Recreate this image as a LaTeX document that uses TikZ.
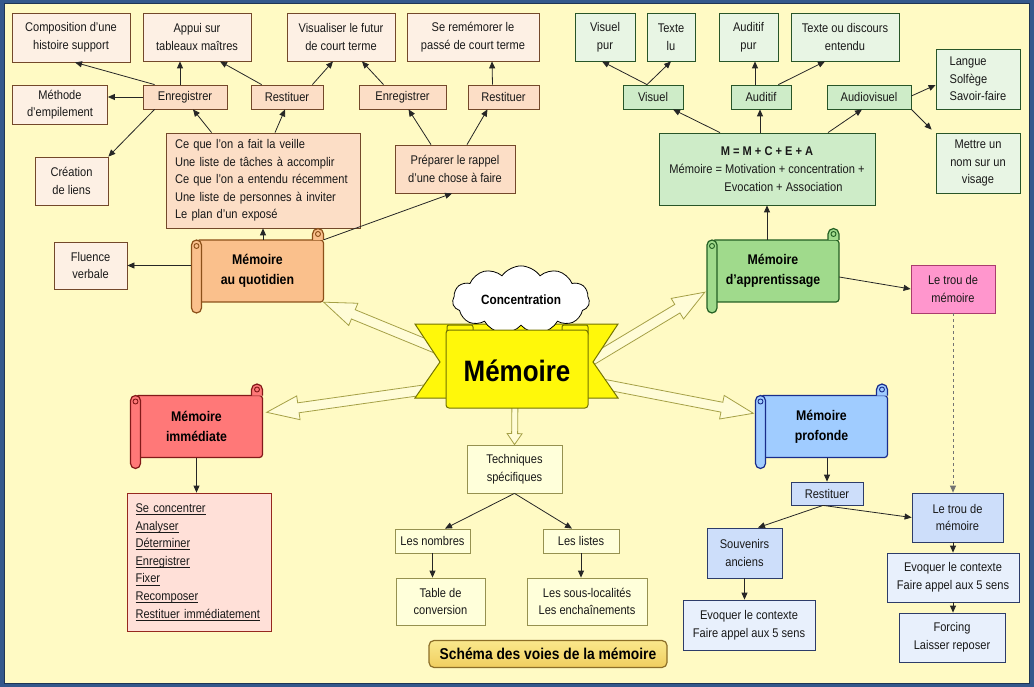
\documentclass[tikz,border=0pt]{standalone}
\usepackage{fontspec}
\setmainfont{Liberation Sans}[FakeStretch=0.88]
\usetikzlibrary{arrows.meta,calc,shapes.symbols}
\definecolor{paper}{RGB}{255,250,196}
\definecolor{frameblue}{RGB}{52,88,140}
\definecolor{peachpale}{RGB}{253,240,228}
\definecolor{peachmid}{RGB}{252,222,198}
\definecolor{peachline}{RGB}{115,72,42}
\definecolor{quotfill}{RGB}{250,192,140}
\definecolor{quotline}{RGB}{140,80,25}
\definecolor{greenpale}{RGB}{232,245,228}
\definecolor{greenmid}{RGB}{206,236,200}
\definecolor{greenline}{RGB}{40,85,40}
\definecolor{apprfill}{RGB}{160,218,140}
\definecolor{apprline}{RGB}{35,95,35}
\definecolor{trourose}{RGB}{255,150,205}
\definecolor{trouline}{RGB}{170,60,110}
\definecolor{bluepale}{RGB}{232,240,252}
\definecolor{bluemid}{RGB}{205,222,250}
\definecolor{blueline}{RGB}{45,60,105}
\definecolor{proffill}{RGB}{160,204,255}
\definecolor{profline}{RGB}{25,45,140}
\definecolor{immfill}{RGB}{255,120,120}
\definecolor{immline}{RGB}{130,25,25}
\definecolor{immlist}{RGB}{255,224,216}
\definecolor{immlistline}{RGB}{150,40,30}
\definecolor{techfill}{RGB}{255,255,218}
\definecolor{techline}{RGB}{150,145,80}
\definecolor{ribbon}{RGB}{255,248,10}
\definecolor{ribbonline}{RGB}{115,115,0}
\definecolor{hollowfill}{RGB}{255,252,215}
\definecolor{hollowline}{RGB}{165,160,70}
\definecolor{titletop}{RGB}{250,232,140}
\definecolor{titlebot}{RGB}{240,205,95}
\definecolor{titleline}{RGB}{140,110,40}
\newcommand\lblfont{\fontsize{12.6}{17.6}\selectfont}
\newcommand\scrollfont{\bfseries\fontsize{14}{20}\selectfont}
\newcommand\underl[1]{\leavevmode\setbox0\hbox{#1}\rlap{\rule[-2.3pt]{\wd0}{0.6pt}}\box0}
% scroll: name, x, y, fill, line, text
\newcommand\scrollnode[6]{%
  \begin{scope}[shift={(#2,#3)}, line width=1.2pt]
    \filldraw[fill=#4, draw=#5, rounded corners=3pt] (-61,-31) rectangle (66,31);
    \filldraw[fill=#4, draw=#5] (55,-31) -- (55,-37) arc[start angle=180, end angle=0, radius=5.5pt] -- (66,-31);
    \draw[draw=#5, line width=0.9pt] (60.5,-37) circle[radius=2.5pt];
    \filldraw[fill=#4, draw=#5, rounded corners=5pt] (-66,-31) rectangle (-56,42);
    \draw[draw=#5, line width=0.9pt] (-61,-25) circle[radius=2.5pt];
  \end{scope}
  \node[scrolltext, minimum width=132, minimum height=62] (#1) at (#2,#3) {#6};}
% big open arrow: from, to, shaft half width, head half width, head length
\newcommand\hollowarrow[5]{%
  \draw[hollow] let \p1=($(#2)-(#1)$), \n1={atan2(\y1,\x1)}, \n2={veclen(\x1,\y1)-#5} in
    ($(#1)+({\n1+90}:#3pt)$) -- ($(#1)+({\n1}:{\n2*1pt})+({\n1+90}:#3pt)$)
    -- ($(#1)+({\n1}:{\n2*1pt})+({\n1+90}:#4pt)$) -- (#2)
    -- ($(#1)+({\n1}:{\n2*1pt})+({\n1-90}:#4pt)$) -- ($(#1)+({\n1}:{\n2*1pt})+({\n1-90}:#3pt)$)
    -- ($(#1)+({\n1-90}:#3pt)$) -- cycle;}
\tikzset{
  box/.style={draw, rectangle, align=center, inner sep=0pt, line width=0.8pt, font=\lblfont, text=black!90},
  peachbox/.style={box, fill=peachpale, draw=peachline},
  peachkey/.style={box, fill=peachmid, draw=peachline},
  greenbox/.style={box, fill=greenpale, draw=greenline},
  greenkey/.style={box, fill=greenmid, draw=greenline},
  bluebox/.style={box, fill=bluepale, draw=blueline},
  bluekey/.style={box, fill=bluemid, draw=blueline},
  techbox/.style={box, fill=techfill, draw=techline},
  scrolltext/.style={inner sep=0pt, align=center, font=\scrollfont},
  conn/.style={draw=black!85, line width=0.8pt, -{Triangle[length=7pt,width=6pt]}},
  hollow/.style={fill=hollowfill, draw=hollowline, line width=0.8pt, line join=miter},
  ribbonpart/.style={fill=ribbon, draw=ribbonline, line width=1pt}
}
\begin{document}
\begin{tikzpicture}[x=1pt, y=-1pt]
  \useasboundingbox (0,0) rectangle (1034,687);
  \fill[frameblue] (0,0) rectangle (1034,687);
  \fill[paper] (4,3) rectangle (1029,683);
  \draw[frameblue!60!black, line width=0.6pt] (4,3) rectangle (1029,683);

  % memoire au quotidien
  \node[peachbox, minimum width=118, minimum height=49] (comp) at (71,37.5) {Composition d’une\\histoire support};
  \node[peachbox, minimum width=108, minimum height=48] (appui) at (197,37) {Appui sur\\tableaux maîtres};
  \node[peachbox, minimum width=108, minimum height=48] (futur) at (341,37) {Visualiser le futur\\de court terme};
  \node[peachbox, minimum width=132, minimum height=48] (passe) at (473,37) {Se remémorer le\\passé de court terme};
  \node[peachbox, minimum width=95, minimum height=39] (empil) at (60,104.5) {Méthode\\d’empilement};
  \node[peachkey, minimum width=84, minimum height=24] (enr1) at (185,97) {Enregistrer};
  \node[peachkey, minimum width=72, minimum height=24] (rest1) at (287,97) {Restituer};
  \node[peachkey, minimum width=87, minimum height=24] (enr2) at (402.5,97) {Enregistrer};
  \node[peachkey, minimum width=71, minimum height=24] (rest2) at (503.5,97) {Restituer};
  \node[peachbox, minimum width=73, minimum height=48] (liens) at (71.5,181) {Création\\de liens};
  \node[peachkey, align=left, text width=176, inner xsep=9, minimum height=95] (veille) at (263,180.5)
    {Ce que l’on a fait la veille\\Une liste de tâches à accomplir\\Ce que l’on a entendu récemment\\Une liste de personnes à inviter\\Le plan d’un exposé};
  \node[peachkey, minimum width=120, minimum height=48] (rappel) at (455,169) {Préparer le rappel\\d’une chose à faire};
  \node[peachbox, minimum width=73, minimum height=47] (fluence) at (90.5,265.5) {Fluence\\verbale};
  \scrollnode{quot}{257.5}{271}{quotfill}{quotline}{Mémoire\\au quotidien}

  \draw[conn] ($(enr1.north west)+(12,0)$) -- ($(comp.south)+(4,0)$);
  \draw[conn] ($(enr1.north)+(-5,0)$) -- ($(appui.south)+(-17,0)$);
  \draw[conn] ($(rest1.north west)+(11,0)$) -- ($(appui.south)+(23,0)$);
  \draw[conn] ($(rest1.north east)+(-11,0)$) -- ($(futur.south)+(-8,0)$);
  \draw[conn] (enr1.west) -- (enr1.west -| empil.east);
  \draw[conn] ($(enr1.south west)+(12,0)$) -- (liens.north east);
  \draw[conn] ($(veille.north west)+(46,0)$) -- ($(enr1.south)+(8,0)$);
  \draw[conn] ($(veille.north)+(12,0)$) -- ($(rest1.south)+(-2,0)$);
  \draw[conn] ($(enr2.north)+(-19,0)$) -- ($(futur.south)+(21,0)$);
  \draw[conn] ($(rest2.north)+(-11,0)$) -- ($(passe.south)+(19,0)$);
  \draw[conn] ($(rappel.north)+(-24,0)$) -- ($(enr2.south)+(6,0)$);
  \draw[conn] ($(rappel.north)+(12,0)$) -- ($(rest2.south)+(-16,0)$);
  \draw[conn] (quot.north east) -- ($(rappel.south)+(-3,0)$);
  \draw[conn] (quot.north -| veille.south) -- (veille.south);
  \draw[conn] (quot.west |- fluence.east) -- (fluence.east);

  % memoire d'apprentissage
  \node[greenbox, minimum width=60, minimum height=48] (vpur) at (605,37) {Visuel\\pur};
  \node[greenbox, minimum width=48, minimum height=48] (tlu) at (671,37) {Texte\\lu};
  \node[greenbox, minimum width=59, minimum height=48] (apur) at (748.5,37) {Auditif\\pur};
  \node[greenbox, minimum width=108, minimum height=48] (tdisc) at (845,37) {Texte ou discours\\entendu};
  \node[greenkey, minimum width=60, minimum height=24] (visuel) at (653,97) {Visuel};
  \node[greenkey, minimum width=60, minimum height=24] (auditif) at (761,97) {Auditif};
  \node[greenkey, minimum width=84, minimum height=24] (audiov) at (869,97) {Audiovisuel};
  \node[greenbox, align=left, minimum width=84, minimum height=60] (langue) at (978,79) {Langue\\Solfège\\Savoir-faire};
  \node[greenbox, minimum width=84, minimum height=60] (visage) at (978,163) {Mettre un\\nom sur un\\visage};
  \node[greenkey, minimum width=216, minimum height=72] (mcea) at (767,169)
    {\textbf{M = M + C + E + A}\\[1pt]Mémoire = Motivation + concentration +\\\hspace*{33pt}Evocation + Association};
  \scrollnode{appr}{773}{271}{apprfill}{apprline}{Mémoire\\d’apprentissage}
  \node[box, fill=trourose, draw=trouline, minimum width=84, minimum height=48] (trou1) at (953,289) {Le trou de\\mémoire};

  \draw[conn] ($(visuel.north)+(-6,0)$) -- ($(vpur.south)+(-3,0)$);
  \draw[conn] ($(visuel.north)+(-6,0)$) -- (tlu.south);
  \draw[conn] ($(auditif.north)+(-6,0)$) -- ($(apur.south)+(6.5,0)$);
  \draw[conn] ($(auditif.north east)+(-13,0)$) -- ($(tdisc.south)+(-20,0)$);
  \draw[conn] ($(audiov.east)+(0,-1)$) -- ($(langue.west)+(0,6)$);
  \draw[conn] (audiov.south east) -- ($(visage.north west)+(-4,-3)$);
  \draw[conn] ($(mcea.north)+(-47,0)$) -- ($(visuel.south)+(20,0)$);
  \draw[conn] ($(mcea.north)+(-7,0)$) -- ($(auditif.south)+(-1,0)$);
  \draw[conn] ($(mcea.north)+(61,0)$) -- ($(audiov.south)+(-7,0)$);
  \draw[conn] (appr.north -| mcea.south) -- (mcea.south);
  \draw[conn] ($(appr.east)+(0,6)$) -- (trou1.west);

  % memoire profonde
  \scrollnode{prof}{821.5}{426.5}{proffill}{profline}{Mémoire\\profonde}
  \node[bluekey, minimum width=72, minimum height=23] (rest3) at (827,493.5) {Restituer};
  \node[bluekey, minimum width=91, minimum height=49] (trou2) at (957.5,517.5) {Le trou de\\mémoire};
  \node[bluekey, minimum width=75, minimum height=50] (souv) at (744.5,553) {Souvenirs\\anciens};
  \node[bluebox, minimum width=132, minimum height=50] (evoq1) at (749,625) {Evoquer le contexte\\Faire appel aux 5 sens};
  \node[bluebox, minimum width=132, minimum height=49] (evoq2) at (953,577.5) {Evoquer le contexte\\Faire appel aux 5 sens};
  \node[bluebox, minimum width=106, minimum height=49] (forcing) at (952,637.5) {Forcing\\Laisser reposer};

  \draw[conn] (prof.south -| rest3.north) -- (rest3.north);
  \draw[conn] ($(rest3.south)+(-4,0)$) -- ($(souv.north)+(13.5,0)$);
  \draw[conn] ($(rest3.south)+(-4,0)$) -- (trou2.west);
  \draw[conn] (souv.south) -- (souv.south |- evoq1.north);
  \draw[conn] (trou2.south -| evoq2.north) -- (evoq2.north);
  \draw[conn] (evoq2.south) -- (evoq2.south |- forcing.north);
  \draw[conn, dashed, draw=black!55] (trou1.south) -- (trou1.south |- trou2.north);

  % memoire immediate
  \scrollnode{imm}{196.5}{426.5}{immfill}{immline}{Mémoire\\immédiate}
  \node[box, fill=immlist, draw=immlistline, align=left, text width=127, inner xsep=8.5, minimum height=138] (etapes) at (199,562)
    {\underl{Se concentrer}\\\underl{Analyser}\\\underl{Déterminer}\\\underl{Enregistrer}\\\underl{Fixer}\\\underl{Recomposer}\\\underl{Restituer immédiatement}};
  \draw[conn] (imm.south) -- (imm.south |- etapes.north);

  % techniques
  \node[techbox, minimum width=95, minimum height=48] (tech) at (514.5,469) {Techniques\\spécifiques};
  \node[techbox, minimum width=75, minimum height=24] (nombres) at (432.5,541) {Les nombres};
  \node[techbox, minimum width=76, minimum height=24] (listes) at (581,541) {Les listes};
  \node[techbox, minimum width=89, minimum height=47] (conv) at (440.5,601.5) {Table de\\conversion};
  \node[techbox, minimum width=120, minimum height=47] (sousloc) at (587,601.5) {Les sous-localités\\Les enchaînements};
  \draw[conn] (tech.south) -- ($(nombres.north)+(12.5,0)$);
  \draw[conn] (tech.south) -- ($(listes.north)+(-9,0)$);
  \draw[conn] (nombres.south) -- (nombres.south |- conv.north);
  \draw[conn] (listes.south) -- (listes.south |- sousloc.north);

  \node[draw=titleline, top color=titletop, bottom color=titlebot, rounded corners=5pt, line width=1.2pt,
    minimum width=238, minimum height=27, inner sep=0pt, font=\bfseries\fontsize{15.7}{18}\selectfont] (titre) at (548,654)
    {Schéma des voies de la mémoire};

  % big arrows out of the centre
  \coordinate (hq) at (445,352);
  \coordinate (hi) at (445,387);
  \coordinate (ha) at (592,360);
  \coordinate (hp) at (592,382);
  \coordinate (ht) at (515,398);
  \coordinate (ti) at ($(imm.north east)+(4,17)$);
  \coordinate (ta) at ($(appr.south west)+(-2,-10)$);
  \coordinate (tp) at ($(prof.north west)+(-2,18)$);
  \hollowarrow{hq}{quot.south east}{5}{12}{32}
  \hollowarrow{hi}{ti}{5}{12}{32}
  \hollowarrow{ha}{ta}{5}{12}{32}
  \hollowarrow{hp}{tp}{5}{12}{32}
  \hollowarrow{ht}{tech.north}{3}{7.5}{11}

  % centre banner
  \filldraw[ribbonpart] (415,324) -- (618,324) -- (593,362) -- (618,398) -- (415,398) -- (440,362) -- cycle;
  \node[cloud, cloud puffs=11, cloud puff arc=110, aspect=2.1, draw, fill=white, line width=0.8pt,
    minimum width=137, minimum height=66, inner sep=0pt, font=\bfseries\fontsize{13.4}{15}\selectfont] (concentr) at (521,300) {Concentration};
  \filldraw[ribbonpart, rounded corners=2pt] (447,325) rectangle (473,336);
  \filldraw[ribbonpart, rounded corners=2pt] (562,325) rectangle (588,336);
  \filldraw[ribbonpart, rounded corners=3pt] (446,330) rectangle (588,408);
  \node[inner sep=0pt, minimum width=142, minimum height=78, font=\bfseries\fontsize{29.5}{32}\selectfont] (memo) at (517,371) {Mémoire};
\end{tikzpicture}
\end{document}
